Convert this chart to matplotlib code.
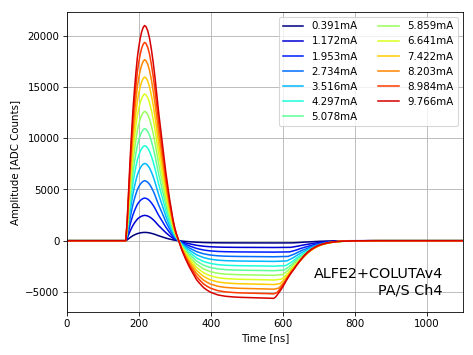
import numpy as np
import matplotlib
matplotlib.use('Agg')
from matplotlib import pyplot as plt

# injected currents [mA]
currents = [0.391, 1.172, 1.953, 2.734, 3.516, 4.297, 5.078,
            5.859, 6.641, 7.422, 8.203, 8.984, 9.766]
# peak amplitude of each pulse [ADC counts]
peaks = [810, 2470, 4160, 5850, 7540, 9270, 10930,
         12620, 14310, 15970, 17660, 19350, 21000]
# delay of the end-of-undershoot knee relative to the largest pulse [ns]
knee_shift = [46, 42, 39, 35, 31, 28, 24, 20, 17, 13, 9, 4, 0]

# pulse shape normalised to peak = 1
t_front = [0, 160, 164, 168, 172, 176, 180, 184, 188, 192, 196, 200, 204,
           208, 212, 216, 220, 225, 230, 235, 240, 245, 250, 255, 260, 265,
           270, 275, 280, 285, 290, 295, 300, 305, 310, 315, 320, 330, 340,
           350, 360, 370, 380, 390, 400, 420, 440, 460, 480, 500, 520, 540,
           560, 575]
s_front = [0, 0, 0, 0.1, 0.24, 0.38, 0.5, 0.61, 0.7, 0.78, 0.85, 0.9, 0.94,
           0.97, 0.99, 1.0, 0.995, 0.975, 0.94, 0.89, 0.83, 0.76, 0.68, 0.6,
           0.53, 0.46, 0.39, 0.32, 0.26, 0.2, 0.15, 0.1, 0.06, 0.03, 0.005,
           -0.02, -0.045, -0.085, -0.12, -0.15, -0.18, -0.2, -0.218, -0.23,
           -0.24, -0.252, -0.258, -0.261, -0.263, -0.264, -0.265, -0.266,
           -0.267, -0.268]
t_tail = [580, 590, 600, 610, 620, 630, 640, 650, 660, 670, 680, 690, 700,
          720, 740, 760, 800, 850, 1100]
s_tail = [-0.262, -0.24, -0.215, -0.185, -0.158, -0.135, -0.11, -0.088,
          -0.068, -0.052, -0.039, -0.029, -0.021, -0.011, -0.0055, -0.0025,
          -0.0006, 0, 0]

fig = plt.figure(figsize=(6.4, 4.8), dpi=74)
ax = fig.add_subplot(111)

for i in range(len(currents)):
    t = np.array(t_front + [x + knee_shift[i] for x in t_tail])
    t[-1] = 1100
    s = np.array(s_front + s_tail) * peaks[i]
    ax.plot(t, s, color=plt.cm.jet(i / len(currents)), label='%.3fmA' % currents[i])

ax.set_xlim(0, 1100)
ax.set_xlabel('Time [ns]')
ax.set_ylabel('Amplitude [ADC Counts]')
ax.grid(True)
ax.legend(loc='upper right', ncol=2)
ax.text(1045, -2550, 'ALFE2+COLUTAv4\nPA/S Ch4', ha='right', va='top', fontsize=14)
fig.subplots_adjust(left=0.141, right=0.977, top=0.966, bottom=0.121)
plt.savefig('out.png')
